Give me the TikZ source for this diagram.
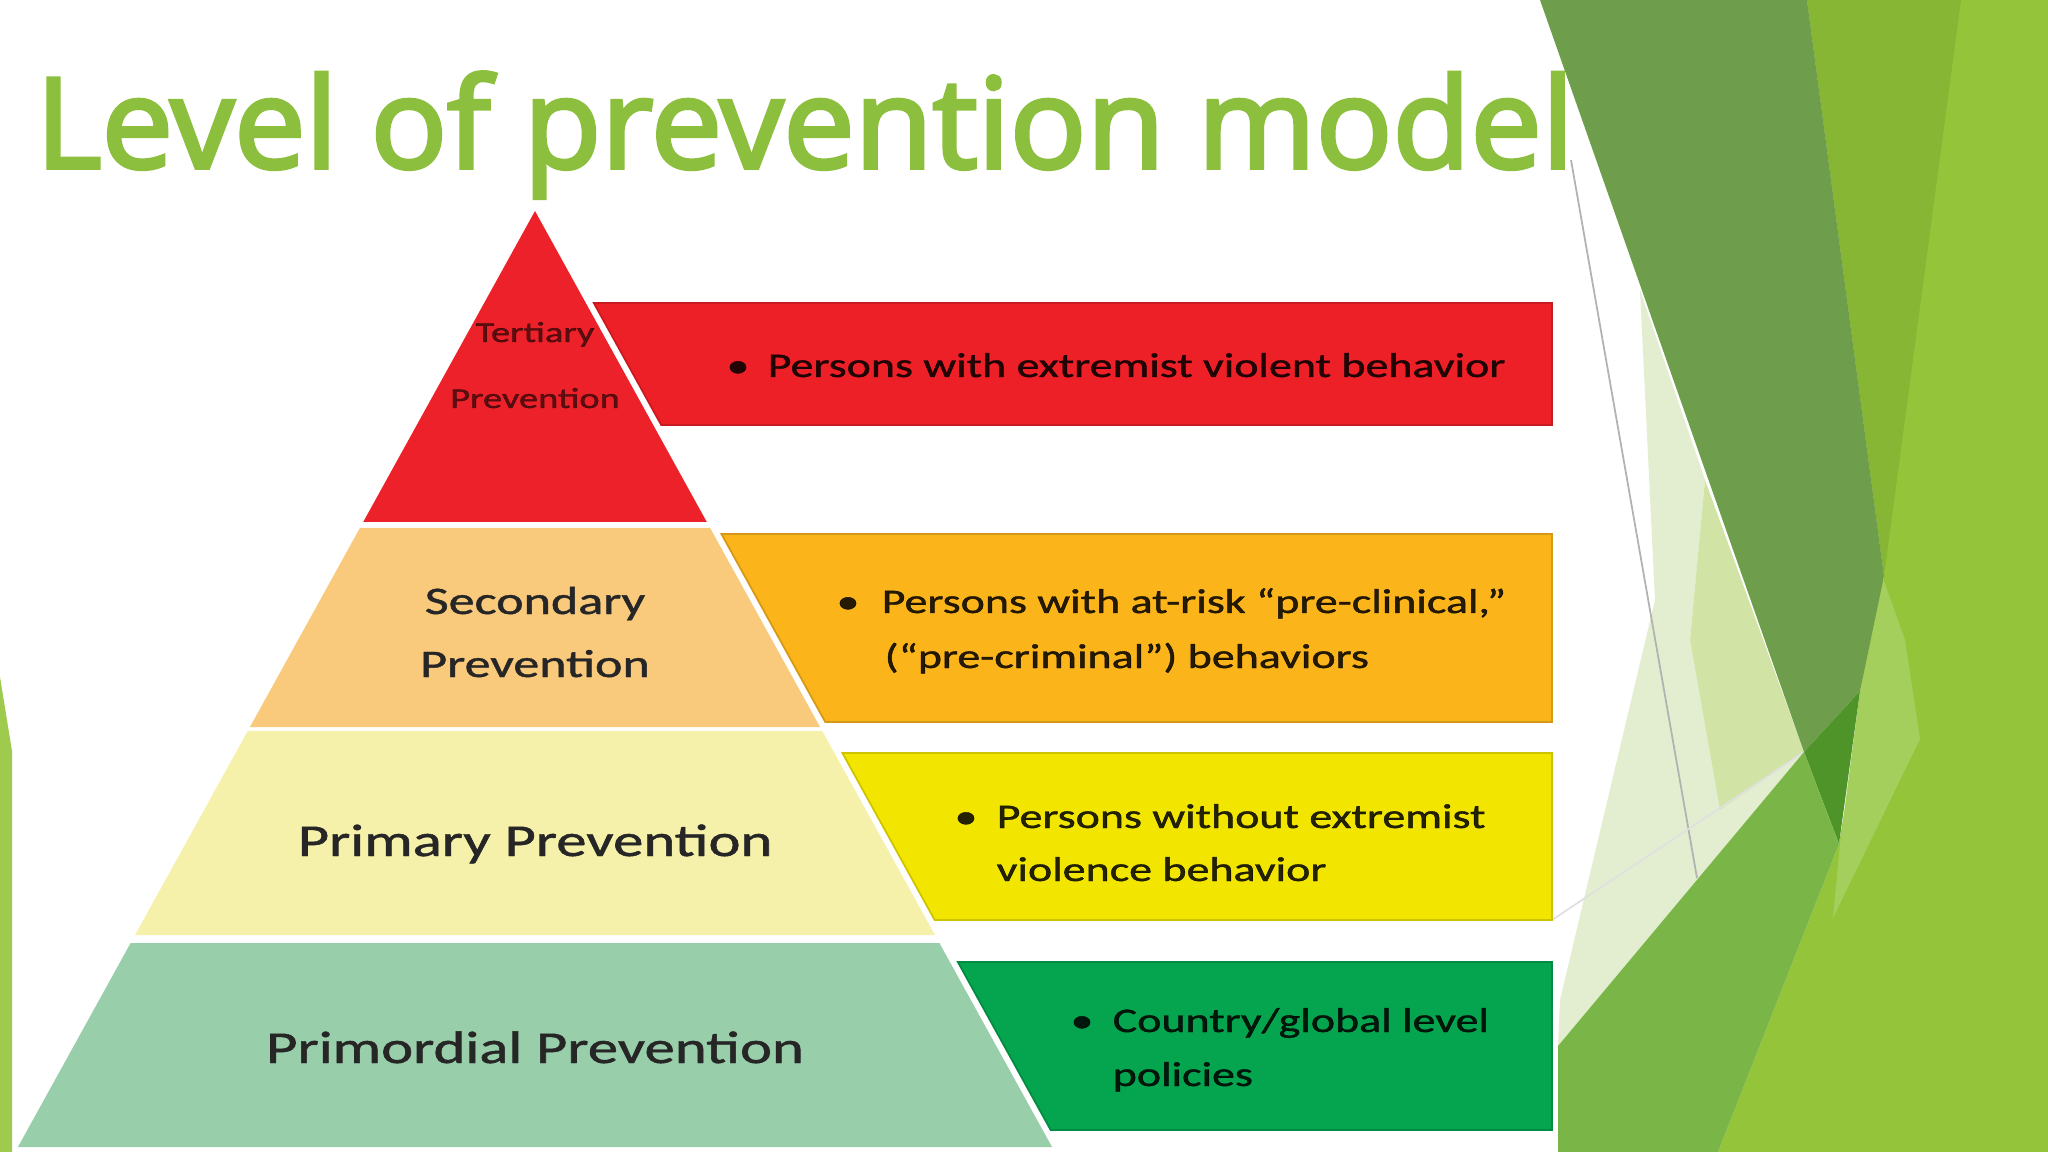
\documentclass[tikz,border=0pt]{standalone}
\usepackage{fontspec}
\usepackage{graphicx}
\setmainfont{Carlito}[FakeBold=1]
\newfontfamily\titlefont{Open Sans}[FakeBold=3]
\usetikzlibrary{positioning}

\definecolor{titlegreen}{HTML}{8DBF3E}
\definecolor{tertred}{HTML}{ED2129}
\definecolor{secband}{HTML}{F9C97C}
\definecolor{primband}{HTML}{F6F1AA}
\definecolor{primordband}{HTML}{98CEA9}
\definecolor{redbox}{HTML}{ED1F27}
\definecolor{orangebox}{HTML}{FBB41A}
\definecolor{yellowbox}{HTML}{F2E600}
\definecolor{greenbox}{HTML}{05A44F}
\definecolor{facetdark}{HTML}{6E9E4C}
\definecolor{facetolive}{HTML}{86B634}
\definecolor{facetlime}{HTML}{93C43A}
\definecolor{facetmid}{HTML}{7AB548}
\definecolor{facetdeep}{HTML}{4F9428}
\definecolor{facetpale}{HTML}{E3EDCF}
\definecolor{facetpale2}{HTML}{D1E4A6}
\definecolor{facetlight}{HTML}{A4CF5C}

\newcommand{\wideText}[1]{\scalebox{1.3333}[1]{#1}}

\begin{document}
\begin{tikzpicture}[x=0.01cm, y=-0.01cm]
\tikzstyle{tertlabel}=[anchor=base, inner sep=0, font=\fontsize{8.2pt}{10pt}\selectfont, text=black, text opacity=0.6]
\tikzstyle{seclabel}=[anchor=base, inner sep=0, font=\fontsize{11.1pt}{13pt}\selectfont, text=black!85]
\tikzstyle{bandlabel}=[anchor=base, inner sep=0, font=\fontsize{12.95pt}{15pt}\selectfont, text=black!85]
\tikzstyle{boxtext}=[anchor=base west, inner sep=0, font=\fontsize{9.8pt}{12pt}\selectfont, text=black, text opacity=0.85]
\tikzstyle{bullet}=[anchor=base, inner sep=0, font=\fontsize{9.8pt}{12pt}\selectfont, text=black, text opacity=0.85]
  \useasboundingbox (0,0) rectangle (2048,1152);
  \fill[white] (0,0) rectangle (2048,1152);

  \fill[facetlime] (1807,0) -- (2048,0) -- (2048,1152) -- (1718,1152) -- (1839,844) -- (1884,576) -- cycle;
  \fill[facetolive] (1807,0) -- (1961,0) -- (1884,576) -- cycle;
  \fill[facetlight] (1880,570) -- (1905,640) -- (1920,739) -- (1833,918) -- (1840,844) -- (1860,691) -- (1873,620) -- cycle;
  \fill[facetpale] (1640,290) -- (1705,480) -- (1690,640) -- (1720,810) -- (1804,752) -- (1558,1046) -- (1560,1000) -- (1655,600) -- cycle;
  \fill[facetpale2] (1705,480) -- (1804,752) -- (1720,810) -- (1690,640) -- cycle;
  \draw[black!30, line width=0.5pt] (1571,160) -- (1697,878);
  \draw[black!12, line width=0.5pt] (1552,920) -- (1804,752);
  \fill[facetdark] (1540,0) -- (1807,0) -- (1884,576) -- (1860,691) -- (1804,752) -- cycle;
  \fill[facetdeep] (1804,752) -- (1860,691) -- (1839,844) -- cycle;
  \fill[facetmid] (1558,1046) -- (1804,752) -- (1839,844) -- (1718,1152) -- (1558,1152) -- cycle;
  \fill[facetlime!90!white] (0,677) -- (12,751) -- (12,1152) -- (0,1152) -- cycle;

  \node[anchor=base west, inner sep=0, text=titlegreen] (title) at (35,168) {\resizebox{15.37cm}{0.96cm}{\titlefont Level of prevention model}};

  \foreach \t/\b/\c in {211/522/tertred, 528/727/secband, 731/935/primband, 943/1147/primordband}
    \fill[\c] ({535-0.5524*(\t-211)},\t) -- ({535+0.5524*(\t-211)},\t) -- ({535+0.5524*(\b-211)},\b) -- ({535-0.5524*(\b-211)},\b) -- cycle;
  \foreach \t/\b/\c in {303/425/redbox, 534/722/orangebox, 753/920/yellowbox, 962/1130/greenbox}
    \fill[\c, draw=\c!85!black, line width=0.5pt] ({543+0.5524*(\t-211)},\t) -- (1552,\t) -- (1552,\b) -- ({543+0.5524*(\b-211)},\b) -- cycle;

  \node[tertlabel] (tert1) at (535,342) {\wideText{Tertiary}};
  \node[tertlabel] (tert2) at (535,408) {\wideText{Prevention}};
  \node[seclabel] (sec1) at (535,614) {\wideText{Secondary}};
  \node[seclabel] (sec2) at (535,677) {\wideText{Prevention}};
  \node[bandlabel] (prim) at (535,856) {\wideText{Primary Prevention}};
  \node[bandlabel] (primord) at (535,1063) {\wideText{Primordial Prevention}};

  \node[bullet] (redbul) at (738,377) {\wideText{•}};
  \node[boxtext] (red1) at (767,377) {\wideText{Persons with extremist violent behavior}};
  \node[bullet] (orangebul) at (848,613) {\wideText{•}};
  \node[boxtext] (orange1) at (881,613) {\wideText{Persons with at-risk “pre-clinical,”}};
  \node[boxtext] (orange2) at (884,668) {\wideText{(“pre-criminal”) behaviors}};
  \node[bullet] (yellowbul) at (966,828) {\wideText{•}};
  \node[boxtext] (yellow1) at (996,828) {\wideText{Persons without extremist}};
  \node[boxtext] (yellow2) at (996,881) {\wideText{violence behavior}};
  \node[bullet] (greenbul) at (1082,1032) {\wideText{•}};
  \node[boxtext] (green1) at (1112,1032) {\wideText{Country/global level}};
  \node[boxtext] (green2) at (1112,1086) {\wideText{policies}};
\end{tikzpicture}
\end{document}
